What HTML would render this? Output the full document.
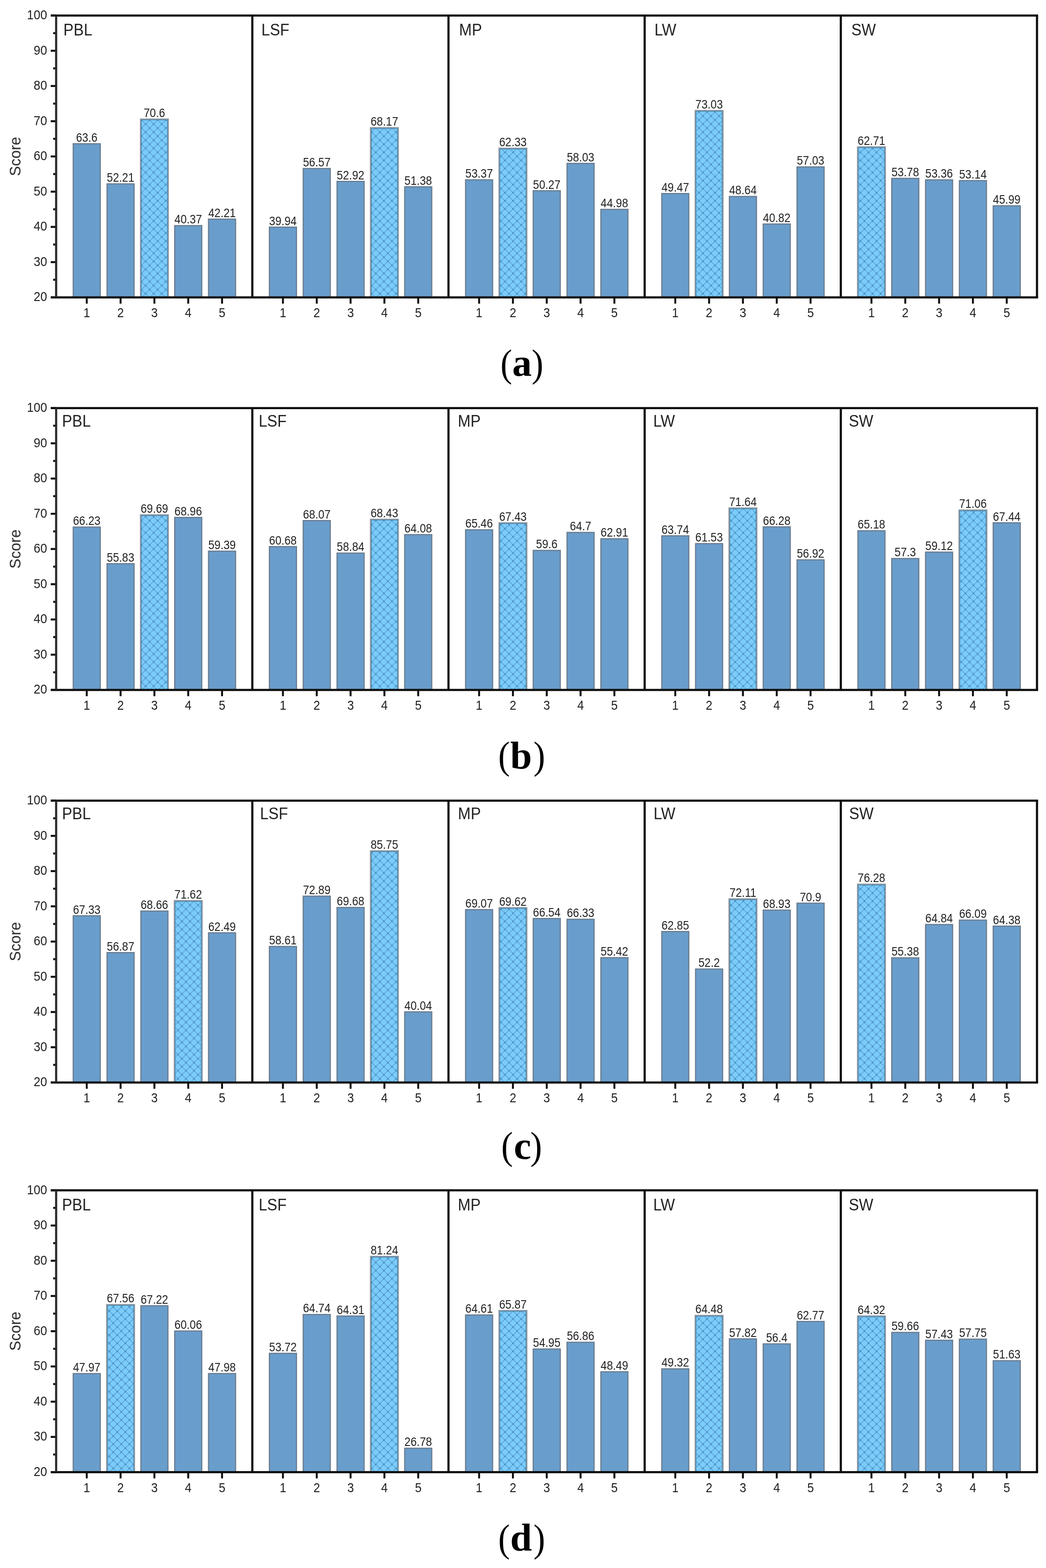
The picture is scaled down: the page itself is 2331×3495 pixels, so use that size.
<!DOCTYPE html>
<html><head><meta charset="utf-8"><title>Score bar charts</title>
<style>html,body{margin:0;padding:0;background:#fff;}svg{display:block;}.t{font-family:'Liberation Sans', Arial, sans-serif;fill:#222;}.cap{font-family:'Liberation Serif', 'Times New Roman', serif;fill:#000;}</style>
</head><body>
<svg width="2331" height="3495" viewBox="0 0 2331 3495">
<defs>
<pattern id="hxa" patternUnits="userSpaceOnUse" x="0.40" y="6.50" width="18" height="18"><rect width="18" height="18" fill="#7bccfb"/><path d="M-4.5,4.5 L4.5,-4.5 M0,18 L18,0 M13.5,22.5 L22.5,13.5 M-4.5,13.5 L4.5,22.5 M0,0 L18,18 M13.5,-4.5 L22.5,4.5" stroke="#5aa6d6" stroke-width="1.6" fill="none"/><path d="M-1.5,-1.5h3v3h-3z M16.5,-1.5h3v3h-3z M-1.5,16.5h3v3h-3z M16.5,16.5h3v3h-3z M7.5,7.5h3v3h-3z" fill="#4583b0"/></pattern>
<pattern id="hxb" patternUnits="userSpaceOnUse" x="0.40" y="881.50" width="18" height="18"><rect width="18" height="18" fill="#7bccfb"/><path d="M-4.5,4.5 L4.5,-4.5 M0,18 L18,0 M13.5,22.5 L22.5,13.5 M-4.5,13.5 L4.5,22.5 M0,0 L18,18 M13.5,-4.5 L22.5,4.5" stroke="#5aa6d6" stroke-width="1.6" fill="none"/><path d="M-1.5,-1.5h3v3h-3z M16.5,-1.5h3v3h-3z M-1.5,16.5h3v3h-3z M16.5,16.5h3v3h-3z M7.5,7.5h3v3h-3z" fill="#4583b0"/></pattern>
<pattern id="hxc" patternUnits="userSpaceOnUse" x="0.40" y="1756.50" width="18" height="18"><rect width="18" height="18" fill="#7bccfb"/><path d="M-4.5,4.5 L4.5,-4.5 M0,18 L18,0 M13.5,22.5 L22.5,13.5 M-4.5,13.5 L4.5,22.5 M0,0 L18,18 M13.5,-4.5 L22.5,4.5" stroke="#5aa6d6" stroke-width="1.6" fill="none"/><path d="M-1.5,-1.5h3v3h-3z M16.5,-1.5h3v3h-3z M-1.5,16.5h3v3h-3z M16.5,16.5h3v3h-3z M7.5,7.5h3v3h-3z" fill="#4583b0"/></pattern>
<pattern id="hxd" patternUnits="userSpaceOnUse" x="0.40" y="2625.00" width="18" height="18"><rect width="18" height="18" fill="#7bccfb"/><path d="M-4.5,4.5 L4.5,-4.5 M0,18 L18,0 M13.5,22.5 L22.5,13.5 M-4.5,13.5 L4.5,22.5 M0,0 L18,18 M13.5,-4.5 L22.5,4.5" stroke="#5aa6d6" stroke-width="1.6" fill="none"/><path d="M-1.5,-1.5h3v3h-3z M16.5,-1.5h3v3h-3z M-1.5,16.5h3v3h-3z M16.5,16.5h3v3h-3z M7.5,7.5h3v3h-3z" fill="#4583b0"/></pattern>
<filter id="soft" filterUnits="userSpaceOnUse" x="0" y="0" width="2331" height="3495"><feGaussianBlur stdDeviation="0.75"/></filter>
</defs>
<rect width="2331" height="3495" fill="#fff"/>
<g id="row-a" filter="url(#soft)">
<rect x="163.19" y="320.43" width="60.30" height="342.37" fill="#699dcc" stroke="#6b7d90" stroke-width="2.6"/>
<text class="t" font-size="24.5" text-anchor="middle" transform="translate(193.34 315.83) scale(1 1.1)">63.6</text>
<rect x="238.56" y="409.87" width="60.30" height="252.93" fill="#699dcc" stroke="#6b7d90" stroke-width="2.6"/>
<text class="t" font-size="24.5" text-anchor="middle" transform="translate(268.71 405.27) scale(1 1.1)">52.21</text>
<rect x="313.14" y="265.46" width="61.90" height="397.34" fill="url(#hxa)" stroke="#8e979f" stroke-width="2.6"/>
<rect x="315.04" y="267.36" width="58.10" height="395.44" fill="none" stroke="#4a84ae" stroke-width="1.4"/>
<text class="t" font-size="24.5" text-anchor="middle" transform="translate(344.08 260.86) scale(1 1.1)">70.6</text>
<rect x="389.31" y="502.84" width="60.30" height="159.96" fill="#699dcc" stroke="#6b7d90" stroke-width="2.6"/>
<text class="t" font-size="24.5" text-anchor="middle" transform="translate(419.46 498.24) scale(1 1.1)">40.37</text>
<rect x="464.68" y="488.40" width="60.30" height="174.40" fill="#699dcc" stroke="#6b7d90" stroke-width="2.6"/>
<text class="t" font-size="24.5" text-anchor="middle" transform="translate(494.83 483.80) scale(1 1.1)">42.21</text>
<text class="t" font-size="34" transform="translate(141.30 78.80) scale(1 1.075)">PBL</text>
<line x1="193.34" y1="662.80" x2="193.34" y2="676.80" stroke="#111" stroke-width="4.3"/>
<text class="t" font-size="26.5" text-anchor="middle" transform="translate(193.34 707.20) scale(1 1.1)">1</text>
<line x1="268.71" y1="662.80" x2="268.71" y2="676.80" stroke="#111" stroke-width="4.3"/>
<text class="t" font-size="26.5" text-anchor="middle" transform="translate(268.71 707.20) scale(1 1.1)">2</text>
<line x1="344.08" y1="662.80" x2="344.08" y2="676.80" stroke="#111" stroke-width="4.3"/>
<text class="t" font-size="26.5" text-anchor="middle" transform="translate(344.08 707.20) scale(1 1.1)">3</text>
<line x1="419.46" y1="662.80" x2="419.46" y2="676.80" stroke="#111" stroke-width="4.3"/>
<text class="t" font-size="26.5" text-anchor="middle" transform="translate(419.46 707.20) scale(1 1.1)">4</text>
<line x1="494.83" y1="662.80" x2="494.83" y2="676.80" stroke="#111" stroke-width="4.3"/>
<text class="t" font-size="26.5" text-anchor="middle" transform="translate(494.83 707.20) scale(1 1.1)">5</text>
<rect x="600.36" y="506.22" width="60.30" height="156.58" fill="#699dcc" stroke="#6b7d90" stroke-width="2.6"/>
<text class="t" font-size="24.5" text-anchor="middle" transform="translate(630.51 501.62) scale(1 1.1)">39.94</text>
<rect x="675.73" y="375.63" width="60.30" height="287.17" fill="#699dcc" stroke="#6b7d90" stroke-width="2.6"/>
<text class="t" font-size="24.5" text-anchor="middle" transform="translate(705.88 371.03) scale(1 1.1)">56.57</text>
<rect x="751.11" y="404.30" width="60.30" height="258.50" fill="#699dcc" stroke="#6b7d90" stroke-width="2.6"/>
<text class="t" font-size="24.5" text-anchor="middle" transform="translate(781.25 399.70) scale(1 1.1)">52.92</text>
<rect x="825.68" y="284.55" width="61.90" height="378.25" fill="url(#hxa)" stroke="#8e979f" stroke-width="2.6"/>
<rect x="827.58" y="286.45" width="58.10" height="376.35" fill="none" stroke="#4a84ae" stroke-width="1.4"/>
<text class="t" font-size="24.5" text-anchor="middle" transform="translate(856.63 279.95) scale(1 1.1)">68.17</text>
<rect x="901.85" y="416.39" width="60.30" height="246.41" fill="#699dcc" stroke="#6b7d90" stroke-width="2.6"/>
<text class="t" font-size="24.5" text-anchor="middle" transform="translate(932.00 411.79) scale(1 1.1)">51.38</text>
<text class="t" font-size="34" transform="translate(582.50 78.80) scale(1 1.075)">LSF</text>
<line x1="630.51" y1="662.80" x2="630.51" y2="676.80" stroke="#111" stroke-width="4.3"/>
<text class="t" font-size="26.5" text-anchor="middle" transform="translate(630.51 707.20) scale(1 1.1)">1</text>
<line x1="705.88" y1="662.80" x2="705.88" y2="676.80" stroke="#111" stroke-width="4.3"/>
<text class="t" font-size="26.5" text-anchor="middle" transform="translate(705.88 707.20) scale(1 1.1)">2</text>
<line x1="781.25" y1="662.80" x2="781.25" y2="676.80" stroke="#111" stroke-width="4.3"/>
<text class="t" font-size="26.5" text-anchor="middle" transform="translate(781.25 707.20) scale(1 1.1)">3</text>
<line x1="856.63" y1="662.80" x2="856.63" y2="676.80" stroke="#111" stroke-width="4.3"/>
<text class="t" font-size="26.5" text-anchor="middle" transform="translate(856.63 707.20) scale(1 1.1)">4</text>
<line x1="932.00" y1="662.80" x2="932.00" y2="676.80" stroke="#111" stroke-width="4.3"/>
<text class="t" font-size="26.5" text-anchor="middle" transform="translate(932.00 707.20) scale(1 1.1)">5</text>
<rect x="1037.53" y="400.76" width="60.30" height="262.04" fill="#699dcc" stroke="#6b7d90" stroke-width="2.6"/>
<text class="t" font-size="24.5" text-anchor="middle" transform="translate(1067.68 396.16) scale(1 1.1)">53.37</text>
<rect x="1112.10" y="330.40" width="61.90" height="332.40" fill="url(#hxa)" stroke="#8e979f" stroke-width="2.6"/>
<rect x="1114.00" y="332.30" width="58.10" height="330.50" fill="none" stroke="#4a84ae" stroke-width="1.4"/>
<text class="t" font-size="24.5" text-anchor="middle" transform="translate(1143.05 325.80) scale(1 1.1)">62.33</text>
<rect x="1188.28" y="425.10" width="60.30" height="237.70" fill="#699dcc" stroke="#6b7d90" stroke-width="2.6"/>
<text class="t" font-size="24.5" text-anchor="middle" transform="translate(1218.43 420.50) scale(1 1.1)">50.27</text>
<rect x="1263.65" y="364.17" width="60.30" height="298.63" fill="#699dcc" stroke="#6b7d90" stroke-width="2.6"/>
<text class="t" font-size="24.5" text-anchor="middle" transform="translate(1293.80 359.57) scale(1 1.1)">58.03</text>
<rect x="1339.02" y="466.64" width="60.30" height="196.16" fill="#699dcc" stroke="#6b7d90" stroke-width="2.6"/>
<text class="t" font-size="24.5" text-anchor="middle" transform="translate(1369.17 462.04) scale(1 1.1)">44.98</text>
<text class="t" font-size="34" transform="translate(1023.10 78.80) scale(1 1.075)">MP</text>
<line x1="1067.68" y1="662.80" x2="1067.68" y2="676.80" stroke="#111" stroke-width="4.3"/>
<text class="t" font-size="26.5" text-anchor="middle" transform="translate(1067.68 707.20) scale(1 1.1)">1</text>
<line x1="1143.05" y1="662.80" x2="1143.05" y2="676.80" stroke="#111" stroke-width="4.3"/>
<text class="t" font-size="26.5" text-anchor="middle" transform="translate(1143.05 707.20) scale(1 1.1)">2</text>
<line x1="1218.43" y1="662.80" x2="1218.43" y2="676.80" stroke="#111" stroke-width="4.3"/>
<text class="t" font-size="26.5" text-anchor="middle" transform="translate(1218.43 707.20) scale(1 1.1)">3</text>
<line x1="1293.80" y1="662.80" x2="1293.80" y2="676.80" stroke="#111" stroke-width="4.3"/>
<text class="t" font-size="26.5" text-anchor="middle" transform="translate(1293.80 707.20) scale(1 1.1)">4</text>
<line x1="1369.17" y1="662.80" x2="1369.17" y2="676.80" stroke="#111" stroke-width="4.3"/>
<text class="t" font-size="26.5" text-anchor="middle" transform="translate(1369.17 707.20) scale(1 1.1)">5</text>
<rect x="1474.70" y="431.39" width="60.30" height="231.41" fill="#699dcc" stroke="#6b7d90" stroke-width="2.6"/>
<text class="t" font-size="24.5" text-anchor="middle" transform="translate(1504.85 426.79) scale(1 1.1)">49.47</text>
<rect x="1549.27" y="246.38" width="61.90" height="416.42" fill="url(#hxa)" stroke="#8e979f" stroke-width="2.6"/>
<rect x="1551.17" y="248.28" width="58.10" height="414.52" fill="none" stroke="#4a84ae" stroke-width="1.4"/>
<text class="t" font-size="24.5" text-anchor="middle" transform="translate(1580.22 241.78) scale(1 1.1)">73.03</text>
<rect x="1625.45" y="437.90" width="60.30" height="224.90" fill="#699dcc" stroke="#6b7d90" stroke-width="2.6"/>
<text class="t" font-size="24.5" text-anchor="middle" transform="translate(1655.60 433.30) scale(1 1.1)">48.64</text>
<rect x="1700.82" y="499.31" width="60.30" height="163.49" fill="#699dcc" stroke="#6b7d90" stroke-width="2.6"/>
<text class="t" font-size="24.5" text-anchor="middle" transform="translate(1730.97 494.71) scale(1 1.1)">40.82</text>
<rect x="1776.19" y="372.02" width="60.30" height="290.78" fill="#699dcc" stroke="#6b7d90" stroke-width="2.6"/>
<text class="t" font-size="24.5" text-anchor="middle" transform="translate(1806.34 367.42) scale(1 1.1)">57.03</text>
<text class="t" font-size="34" transform="translate(1458.50 78.80) scale(1 1.075)">LW</text>
<line x1="1504.85" y1="662.80" x2="1504.85" y2="676.80" stroke="#111" stroke-width="4.3"/>
<text class="t" font-size="26.5" text-anchor="middle" transform="translate(1504.85 707.20) scale(1 1.1)">1</text>
<line x1="1580.22" y1="662.80" x2="1580.22" y2="676.80" stroke="#111" stroke-width="4.3"/>
<text class="t" font-size="26.5" text-anchor="middle" transform="translate(1580.22 707.20) scale(1 1.1)">2</text>
<line x1="1655.60" y1="662.80" x2="1655.60" y2="676.80" stroke="#111" stroke-width="4.3"/>
<text class="t" font-size="26.5" text-anchor="middle" transform="translate(1655.60 707.20) scale(1 1.1)">3</text>
<line x1="1730.97" y1="662.80" x2="1730.97" y2="676.80" stroke="#111" stroke-width="4.3"/>
<text class="t" font-size="26.5" text-anchor="middle" transform="translate(1730.97 707.20) scale(1 1.1)">4</text>
<line x1="1806.34" y1="662.80" x2="1806.34" y2="676.80" stroke="#111" stroke-width="4.3"/>
<text class="t" font-size="26.5" text-anchor="middle" transform="translate(1806.34 707.20) scale(1 1.1)">5</text>
<rect x="1911.07" y="327.42" width="61.90" height="335.38" fill="url(#hxa)" stroke="#8e979f" stroke-width="2.6"/>
<rect x="1912.97" y="329.32" width="58.10" height="333.48" fill="none" stroke="#4a84ae" stroke-width="1.4"/>
<text class="t" font-size="24.5" text-anchor="middle" transform="translate(1942.02 322.82) scale(1 1.1)">62.71</text>
<rect x="1987.24" y="397.54" width="60.30" height="265.26" fill="#699dcc" stroke="#6b7d90" stroke-width="2.6"/>
<text class="t" font-size="24.5" text-anchor="middle" transform="translate(2017.39 392.94) scale(1 1.1)">53.78</text>
<rect x="2062.62" y="400.84" width="60.30" height="261.96" fill="#699dcc" stroke="#6b7d90" stroke-width="2.6"/>
<text class="t" font-size="24.5" text-anchor="middle" transform="translate(2092.76 396.24) scale(1 1.1)">53.36</text>
<rect x="2137.99" y="402.57" width="60.30" height="260.23" fill="#699dcc" stroke="#6b7d90" stroke-width="2.6"/>
<text class="t" font-size="24.5" text-anchor="middle" transform="translate(2168.14 397.97) scale(1 1.1)">53.14</text>
<rect x="2213.36" y="458.71" width="60.30" height="204.09" fill="#699dcc" stroke="#6b7d90" stroke-width="2.6"/>
<text class="t" font-size="24.5" text-anchor="middle" transform="translate(2243.51 454.11) scale(1 1.1)">45.99</text>
<text class="t" font-size="34" transform="translate(1897.20 78.80) scale(1 1.075)">SW</text>
<line x1="1942.02" y1="662.80" x2="1942.02" y2="676.80" stroke="#111" stroke-width="4.3"/>
<text class="t" font-size="26.5" text-anchor="middle" transform="translate(1942.02 707.20) scale(1 1.1)">1</text>
<line x1="2017.39" y1="662.80" x2="2017.39" y2="676.80" stroke="#111" stroke-width="4.3"/>
<text class="t" font-size="26.5" text-anchor="middle" transform="translate(2017.39 707.20) scale(1 1.1)">2</text>
<line x1="2092.76" y1="662.80" x2="2092.76" y2="676.80" stroke="#111" stroke-width="4.3"/>
<text class="t" font-size="26.5" text-anchor="middle" transform="translate(2092.76 707.20) scale(1 1.1)">3</text>
<line x1="2168.14" y1="662.80" x2="2168.14" y2="676.80" stroke="#111" stroke-width="4.3"/>
<text class="t" font-size="26.5" text-anchor="middle" transform="translate(2168.14 707.20) scale(1 1.1)">4</text>
<line x1="2243.51" y1="662.80" x2="2243.51" y2="676.80" stroke="#111" stroke-width="4.3"/>
<text class="t" font-size="26.5" text-anchor="middle" transform="translate(2243.51 707.20) scale(1 1.1)">5</text>
<line x1="113" y1="662.80" x2="125.10" y2="662.80" stroke="#111" stroke-width="4.4"/>
<text class="t" font-size="27" text-anchor="end" transform="translate(105 671.30) scale(1 1.08)">20</text>
<line x1="118.5" y1="623.54" x2="125.10" y2="623.54" stroke="#111" stroke-width="4.4"/>
<line x1="113" y1="584.27" x2="125.10" y2="584.27" stroke="#111" stroke-width="4.4"/>
<text class="t" font-size="27" text-anchor="end" transform="translate(105 592.77) scale(1 1.08)">30</text>
<line x1="118.5" y1="545.01" x2="125.10" y2="545.01" stroke="#111" stroke-width="4.4"/>
<line x1="113" y1="505.75" x2="125.10" y2="505.75" stroke="#111" stroke-width="4.4"/>
<text class="t" font-size="27" text-anchor="end" transform="translate(105 514.25) scale(1 1.08)">40</text>
<line x1="118.5" y1="466.49" x2="125.10" y2="466.49" stroke="#111" stroke-width="4.4"/>
<line x1="113" y1="427.22" x2="125.10" y2="427.22" stroke="#111" stroke-width="4.4"/>
<text class="t" font-size="27" text-anchor="end" transform="translate(105 435.72) scale(1 1.08)">50</text>
<line x1="118.5" y1="387.96" x2="125.10" y2="387.96" stroke="#111" stroke-width="4.4"/>
<line x1="113" y1="348.70" x2="125.10" y2="348.70" stroke="#111" stroke-width="4.4"/>
<text class="t" font-size="27" text-anchor="end" transform="translate(105 357.20) scale(1 1.08)">60</text>
<line x1="118.5" y1="309.44" x2="125.10" y2="309.44" stroke="#111" stroke-width="4.4"/>
<line x1="113" y1="270.18" x2="125.10" y2="270.18" stroke="#111" stroke-width="4.4"/>
<text class="t" font-size="27" text-anchor="end" transform="translate(105 278.68) scale(1 1.08)">70</text>
<line x1="118.5" y1="230.91" x2="125.10" y2="230.91" stroke="#111" stroke-width="4.4"/>
<line x1="113" y1="191.65" x2="125.10" y2="191.65" stroke="#111" stroke-width="4.4"/>
<text class="t" font-size="27" text-anchor="end" transform="translate(105 200.15) scale(1 1.08)">80</text>
<line x1="118.5" y1="152.39" x2="125.10" y2="152.39" stroke="#111" stroke-width="4.4"/>
<line x1="113" y1="113.12" x2="125.10" y2="113.12" stroke="#111" stroke-width="4.4"/>
<text class="t" font-size="27" text-anchor="end" transform="translate(105 121.62) scale(1 1.08)">90</text>
<line x1="118.5" y1="73.86" x2="125.10" y2="73.86" stroke="#111" stroke-width="4.4"/>
<line x1="113" y1="34.60" x2="125.10" y2="34.60" stroke="#111" stroke-width="4.4"/>
<text class="t" font-size="27" text-anchor="end" transform="translate(105 43.10) scale(1 1.08)">100</text>
<line x1="113" y1="34.60" x2="2313.35" y2="34.60" stroke="#0a0a0a" stroke-width="4.8"/>
<line x1="113" y1="662.80" x2="2313.35" y2="662.80" stroke="#0a0a0a" stroke-width="4.8"/>
<line x1="125.10" y1="34.60" x2="125.10" y2="662.80" stroke="#2a2a2a" stroke-width="4.8"/>
<line x1="562.27" y1="34.60" x2="562.27" y2="662.80" stroke="#0a0a0a" stroke-width="4.8"/>
<line x1="999.44" y1="34.60" x2="999.44" y2="662.80" stroke="#0a0a0a" stroke-width="4.8"/>
<line x1="1436.61" y1="34.60" x2="1436.61" y2="662.80" stroke="#0a0a0a" stroke-width="4.8"/>
<line x1="1873.78" y1="34.60" x2="1873.78" y2="662.80" stroke="#0a0a0a" stroke-width="4.8"/>
<line x1="2310.95" y1="34.60" x2="2310.95" y2="662.80" stroke="#0a0a0a" stroke-width="4.8"/>
<text class="t" font-size="33.5" text-anchor="middle" transform="translate(45.3 348.70) rotate(-90) scale(1 1.05)">Score</text>
</g>
<g class="cap" font-size="87"><text transform="translate(1115.3 839.4) scale(0.9 1)">(</text><text x="1141.6" y="837.6" font-weight="bold" font-size="87">a</text><text transform="translate(1184.8 839.4) scale(0.9 1)">)</text></g>
<g id="row-b" filter="url(#soft)">
<rect x="163.19" y="1174.78" width="60.30" height="363.02" fill="#699dcc" stroke="#6b7d90" stroke-width="2.6"/>
<text class="t" font-size="24.5" text-anchor="middle" transform="translate(193.34 1170.18) scale(1 1.1)">66.23</text>
<rect x="238.56" y="1256.44" width="60.30" height="281.36" fill="#699dcc" stroke="#6b7d90" stroke-width="2.6"/>
<text class="t" font-size="24.5" text-anchor="middle" transform="translate(268.71 1251.84) scale(1 1.1)">55.83</text>
<rect x="313.14" y="1147.61" width="61.90" height="390.19" fill="url(#hxb)" stroke="#8e979f" stroke-width="2.6"/>
<rect x="315.04" y="1149.51" width="58.10" height="388.29" fill="none" stroke="#4a84ae" stroke-width="1.4"/>
<text class="t" font-size="24.5" text-anchor="middle" transform="translate(344.08 1143.01) scale(1 1.1)">69.69</text>
<rect x="389.31" y="1153.34" width="60.30" height="384.46" fill="#699dcc" stroke="#6b7d90" stroke-width="2.6"/>
<text class="t" font-size="24.5" text-anchor="middle" transform="translate(419.46 1148.74) scale(1 1.1)">68.96</text>
<rect x="464.68" y="1228.49" width="60.30" height="309.31" fill="#699dcc" stroke="#6b7d90" stroke-width="2.6"/>
<text class="t" font-size="24.5" text-anchor="middle" transform="translate(494.83 1223.89) scale(1 1.1)">59.39</text>
<text class="t" font-size="34" transform="translate(138.20 950.80) scale(1 1.075)">PBL</text>
<line x1="193.34" y1="1537.80" x2="193.34" y2="1551.80" stroke="#111" stroke-width="4.3"/>
<text class="t" font-size="26.5" text-anchor="middle" transform="translate(193.34 1582.20) scale(1 1.1)">1</text>
<line x1="268.71" y1="1537.80" x2="268.71" y2="1551.80" stroke="#111" stroke-width="4.3"/>
<text class="t" font-size="26.5" text-anchor="middle" transform="translate(268.71 1582.20) scale(1 1.1)">2</text>
<line x1="344.08" y1="1537.80" x2="344.08" y2="1551.80" stroke="#111" stroke-width="4.3"/>
<text class="t" font-size="26.5" text-anchor="middle" transform="translate(344.08 1582.20) scale(1 1.1)">3</text>
<line x1="419.46" y1="1537.80" x2="419.46" y2="1551.80" stroke="#111" stroke-width="4.3"/>
<text class="t" font-size="26.5" text-anchor="middle" transform="translate(419.46 1582.20) scale(1 1.1)">4</text>
<line x1="494.83" y1="1537.80" x2="494.83" y2="1551.80" stroke="#111" stroke-width="4.3"/>
<text class="t" font-size="26.5" text-anchor="middle" transform="translate(494.83 1582.20) scale(1 1.1)">5</text>
<rect x="600.36" y="1218.36" width="60.30" height="319.44" fill="#699dcc" stroke="#6b7d90" stroke-width="2.6"/>
<text class="t" font-size="24.5" text-anchor="middle" transform="translate(630.51 1213.76) scale(1 1.1)">60.68</text>
<rect x="675.73" y="1160.33" width="60.30" height="377.47" fill="#699dcc" stroke="#6b7d90" stroke-width="2.6"/>
<text class="t" font-size="24.5" text-anchor="middle" transform="translate(705.88 1155.73) scale(1 1.1)">68.07</text>
<rect x="751.11" y="1232.81" width="60.30" height="304.99" fill="#699dcc" stroke="#6b7d90" stroke-width="2.6"/>
<text class="t" font-size="24.5" text-anchor="middle" transform="translate(781.25 1228.21) scale(1 1.1)">58.84</text>
<rect x="825.68" y="1157.50" width="61.90" height="380.30" fill="url(#hxb)" stroke="#8e979f" stroke-width="2.6"/>
<rect x="827.58" y="1159.40" width="58.10" height="378.40" fill="none" stroke="#4a84ae" stroke-width="1.4"/>
<text class="t" font-size="24.5" text-anchor="middle" transform="translate(856.63 1152.90) scale(1 1.1)">68.43</text>
<rect x="901.85" y="1191.66" width="60.30" height="346.14" fill="#699dcc" stroke="#6b7d90" stroke-width="2.6"/>
<text class="t" font-size="24.5" text-anchor="middle" transform="translate(932.00 1187.06) scale(1 1.1)">64.08</text>
<text class="t" font-size="34" transform="translate(576.40 950.80) scale(1 1.075)">LSF</text>
<line x1="630.51" y1="1537.80" x2="630.51" y2="1551.80" stroke="#111" stroke-width="4.3"/>
<text class="t" font-size="26.5" text-anchor="middle" transform="translate(630.51 1582.20) scale(1 1.1)">1</text>
<line x1="705.88" y1="1537.80" x2="705.88" y2="1551.80" stroke="#111" stroke-width="4.3"/>
<text class="t" font-size="26.5" text-anchor="middle" transform="translate(705.88 1582.20) scale(1 1.1)">2</text>
<line x1="781.25" y1="1537.80" x2="781.25" y2="1551.80" stroke="#111" stroke-width="4.3"/>
<text class="t" font-size="26.5" text-anchor="middle" transform="translate(781.25 1582.20) scale(1 1.1)">3</text>
<line x1="856.63" y1="1537.80" x2="856.63" y2="1551.80" stroke="#111" stroke-width="4.3"/>
<text class="t" font-size="26.5" text-anchor="middle" transform="translate(856.63 1582.20) scale(1 1.1)">4</text>
<line x1="932.00" y1="1537.80" x2="932.00" y2="1551.80" stroke="#111" stroke-width="4.3"/>
<text class="t" font-size="26.5" text-anchor="middle" transform="translate(932.00 1582.20) scale(1 1.1)">5</text>
<rect x="1037.53" y="1180.83" width="60.30" height="356.97" fill="#699dcc" stroke="#6b7d90" stroke-width="2.6"/>
<text class="t" font-size="24.5" text-anchor="middle" transform="translate(1067.68 1176.23) scale(1 1.1)">65.46</text>
<rect x="1112.10" y="1165.36" width="61.90" height="372.44" fill="url(#hxb)" stroke="#8e979f" stroke-width="2.6"/>
<rect x="1114.00" y="1167.26" width="58.10" height="370.54" fill="none" stroke="#4a84ae" stroke-width="1.4"/>
<text class="t" font-size="24.5" text-anchor="middle" transform="translate(1143.05 1160.76) scale(1 1.1)">67.43</text>
<rect x="1188.28" y="1226.84" width="60.30" height="310.96" fill="#699dcc" stroke="#6b7d90" stroke-width="2.6"/>
<text class="t" font-size="24.5" text-anchor="middle" transform="translate(1218.43 1222.24) scale(1 1.1)">59.6</text>
<rect x="1263.65" y="1186.79" width="60.30" height="351.01" fill="#699dcc" stroke="#6b7d90" stroke-width="2.6"/>
<text class="t" font-size="24.5" text-anchor="middle" transform="translate(1293.80 1182.19) scale(1 1.1)">64.7</text>
<rect x="1339.02" y="1200.85" width="60.30" height="336.95" fill="#699dcc" stroke="#6b7d90" stroke-width="2.6"/>
<text class="t" font-size="24.5" text-anchor="middle" transform="translate(1369.17 1196.25) scale(1 1.1)">62.91</text>
<text class="t" font-size="34" transform="translate(1020.30 950.80) scale(1 1.075)">MP</text>
<line x1="1067.68" y1="1537.80" x2="1067.68" y2="1551.80" stroke="#111" stroke-width="4.3"/>
<text class="t" font-size="26.5" text-anchor="middle" transform="translate(1067.68 1582.20) scale(1 1.1)">1</text>
<line x1="1143.05" y1="1537.80" x2="1143.05" y2="1551.80" stroke="#111" stroke-width="4.3"/>
<text class="t" font-size="26.5" text-anchor="middle" transform="translate(1143.05 1582.20) scale(1 1.1)">2</text>
<line x1="1218.43" y1="1537.80" x2="1218.43" y2="1551.80" stroke="#111" stroke-width="4.3"/>
<text class="t" font-size="26.5" text-anchor="middle" transform="translate(1218.43 1582.20) scale(1 1.1)">3</text>
<line x1="1293.80" y1="1537.80" x2="1293.80" y2="1551.80" stroke="#111" stroke-width="4.3"/>
<text class="t" font-size="26.5" text-anchor="middle" transform="translate(1293.80 1582.20) scale(1 1.1)">4</text>
<line x1="1369.17" y1="1537.80" x2="1369.17" y2="1551.80" stroke="#111" stroke-width="4.3"/>
<text class="t" font-size="26.5" text-anchor="middle" transform="translate(1369.17 1582.20) scale(1 1.1)">5</text>
<rect x="1474.70" y="1194.33" width="60.30" height="343.47" fill="#699dcc" stroke="#6b7d90" stroke-width="2.6"/>
<text class="t" font-size="24.5" text-anchor="middle" transform="translate(1504.85 1189.73) scale(1 1.1)">63.74</text>
<rect x="1550.07" y="1211.69" width="60.30" height="326.11" fill="#699dcc" stroke="#6b7d90" stroke-width="2.6"/>
<text class="t" font-size="24.5" text-anchor="middle" transform="translate(1580.22 1207.09) scale(1 1.1)">61.53</text>
<rect x="1624.65" y="1132.30" width="61.90" height="405.50" fill="url(#hxb)" stroke="#8e979f" stroke-width="2.6"/>
<rect x="1626.55" y="1134.20" width="58.10" height="403.60" fill="none" stroke="#4a84ae" stroke-width="1.4"/>
<text class="t" font-size="24.5" text-anchor="middle" transform="translate(1655.60 1127.70) scale(1 1.1)">71.64</text>
<rect x="1700.82" y="1174.39" width="60.30" height="363.41" fill="#699dcc" stroke="#6b7d90" stroke-width="2.6"/>
<text class="t" font-size="24.5" text-anchor="middle" transform="translate(1730.97 1169.79) scale(1 1.1)">66.28</text>
<rect x="1776.19" y="1247.89" width="60.30" height="289.91" fill="#699dcc" stroke="#6b7d90" stroke-width="2.6"/>
<text class="t" font-size="24.5" text-anchor="middle" transform="translate(1806.34 1243.29) scale(1 1.1)">56.92</text>
<text class="t" font-size="34" transform="translate(1455.70 950.80) scale(1 1.075)">LW</text>
<line x1="1504.85" y1="1537.80" x2="1504.85" y2="1551.80" stroke="#111" stroke-width="4.3"/>
<text class="t" font-size="26.5" text-anchor="middle" transform="translate(1504.85 1582.20) scale(1 1.1)">1</text>
<line x1="1580.22" y1="1537.80" x2="1580.22" y2="1551.80" stroke="#111" stroke-width="4.3"/>
<text class="t" font-size="26.5" text-anchor="middle" transform="translate(1580.22 1582.20) scale(1 1.1)">2</text>
<line x1="1655.60" y1="1537.80" x2="1655.60" y2="1551.80" stroke="#111" stroke-width="4.3"/>
<text class="t" font-size="26.5" text-anchor="middle" transform="translate(1655.60 1582.20) scale(1 1.1)">3</text>
<line x1="1730.97" y1="1537.80" x2="1730.97" y2="1551.80" stroke="#111" stroke-width="4.3"/>
<text class="t" font-size="26.5" text-anchor="middle" transform="translate(1730.97 1582.20) scale(1 1.1)">4</text>
<line x1="1806.34" y1="1537.80" x2="1806.34" y2="1551.80" stroke="#111" stroke-width="4.3"/>
<text class="t" font-size="26.5" text-anchor="middle" transform="translate(1806.34 1582.20) scale(1 1.1)">5</text>
<rect x="1911.87" y="1183.02" width="60.30" height="354.78" fill="#699dcc" stroke="#6b7d90" stroke-width="2.6"/>
<text class="t" font-size="24.5" text-anchor="middle" transform="translate(1942.02 1178.42) scale(1 1.1)">65.18</text>
<rect x="1987.24" y="1244.90" width="60.30" height="292.90" fill="#699dcc" stroke="#6b7d90" stroke-width="2.6"/>
<text class="t" font-size="24.5" text-anchor="middle" transform="translate(2017.39 1240.30) scale(1 1.1)">57.3</text>
<rect x="2062.62" y="1230.61" width="60.30" height="307.19" fill="#699dcc" stroke="#6b7d90" stroke-width="2.6"/>
<text class="t" font-size="24.5" text-anchor="middle" transform="translate(2092.76 1226.01) scale(1 1.1)">59.12</text>
<rect x="2137.19" y="1136.85" width="61.90" height="400.95" fill="url(#hxb)" stroke="#8e979f" stroke-width="2.6"/>
<rect x="2139.09" y="1138.75" width="58.10" height="399.05" fill="none" stroke="#4a84ae" stroke-width="1.4"/>
<text class="t" font-size="24.5" text-anchor="middle" transform="translate(2168.14 1132.25) scale(1 1.1)">71.06</text>
<rect x="2213.36" y="1165.28" width="60.30" height="372.52" fill="#699dcc" stroke="#6b7d90" stroke-width="2.6"/>
<text class="t" font-size="24.5" text-anchor="middle" transform="translate(2243.51 1160.68) scale(1 1.1)">67.44</text>
<text class="t" font-size="34" transform="translate(1891.40 950.80) scale(1 1.075)">SW</text>
<line x1="1942.02" y1="1537.80" x2="1942.02" y2="1551.80" stroke="#111" stroke-width="4.3"/>
<text class="t" font-size="26.5" text-anchor="middle" transform="translate(1942.02 1582.20) scale(1 1.1)">1</text>
<line x1="2017.39" y1="1537.80" x2="2017.39" y2="1551.80" stroke="#111" stroke-width="4.3"/>
<text class="t" font-size="26.5" text-anchor="middle" transform="translate(2017.39 1582.20) scale(1 1.1)">2</text>
<line x1="2092.76" y1="1537.80" x2="2092.76" y2="1551.80" stroke="#111" stroke-width="4.3"/>
<text class="t" font-size="26.5" text-anchor="middle" transform="translate(2092.76 1582.20) scale(1 1.1)">3</text>
<line x1="2168.14" y1="1537.80" x2="2168.14" y2="1551.80" stroke="#111" stroke-width="4.3"/>
<text class="t" font-size="26.5" text-anchor="middle" transform="translate(2168.14 1582.20) scale(1 1.1)">4</text>
<line x1="2243.51" y1="1537.80" x2="2243.51" y2="1551.80" stroke="#111" stroke-width="4.3"/>
<text class="t" font-size="26.5" text-anchor="middle" transform="translate(2243.51 1582.20) scale(1 1.1)">5</text>
<line x1="113" y1="1537.80" x2="125.10" y2="1537.80" stroke="#111" stroke-width="4.4"/>
<text class="t" font-size="27" text-anchor="end" transform="translate(105 1546.30) scale(1 1.08)">20</text>
<line x1="118.5" y1="1498.54" x2="125.10" y2="1498.54" stroke="#111" stroke-width="4.4"/>
<line x1="113" y1="1459.27" x2="125.10" y2="1459.27" stroke="#111" stroke-width="4.4"/>
<text class="t" font-size="27" text-anchor="end" transform="translate(105 1467.77) scale(1 1.08)">30</text>
<line x1="118.5" y1="1420.01" x2="125.10" y2="1420.01" stroke="#111" stroke-width="4.4"/>
<line x1="113" y1="1380.75" x2="125.10" y2="1380.75" stroke="#111" stroke-width="4.4"/>
<text class="t" font-size="27" text-anchor="end" transform="translate(105 1389.25) scale(1 1.08)">40</text>
<line x1="118.5" y1="1341.49" x2="125.10" y2="1341.49" stroke="#111" stroke-width="4.4"/>
<line x1="113" y1="1302.22" x2="125.10" y2="1302.22" stroke="#111" stroke-width="4.4"/>
<text class="t" font-size="27" text-anchor="end" transform="translate(105 1310.72) scale(1 1.08)">50</text>
<line x1="118.5" y1="1262.96" x2="125.10" y2="1262.96" stroke="#111" stroke-width="4.4"/>
<line x1="113" y1="1223.70" x2="125.10" y2="1223.70" stroke="#111" stroke-width="4.4"/>
<text class="t" font-size="27" text-anchor="end" transform="translate(105 1232.20) scale(1 1.08)">60</text>
<line x1="118.5" y1="1184.44" x2="125.10" y2="1184.44" stroke="#111" stroke-width="4.4"/>
<line x1="113" y1="1145.17" x2="125.10" y2="1145.17" stroke="#111" stroke-width="4.4"/>
<text class="t" font-size="27" text-anchor="end" transform="translate(105 1153.67) scale(1 1.08)">70</text>
<line x1="118.5" y1="1105.91" x2="125.10" y2="1105.91" stroke="#111" stroke-width="4.4"/>
<line x1="113" y1="1066.65" x2="125.10" y2="1066.65" stroke="#111" stroke-width="4.4"/>
<text class="t" font-size="27" text-anchor="end" transform="translate(105 1075.15) scale(1 1.08)">80</text>
<line x1="118.5" y1="1027.39" x2="125.10" y2="1027.39" stroke="#111" stroke-width="4.4"/>
<line x1="113" y1="988.12" x2="125.10" y2="988.12" stroke="#111" stroke-width="4.4"/>
<text class="t" font-size="27" text-anchor="end" transform="translate(105 996.62) scale(1 1.08)">90</text>
<line x1="118.5" y1="948.86" x2="125.10" y2="948.86" stroke="#111" stroke-width="4.4"/>
<line x1="113" y1="909.60" x2="125.10" y2="909.60" stroke="#111" stroke-width="4.4"/>
<text class="t" font-size="27" text-anchor="end" transform="translate(105 918.10) scale(1 1.08)">100</text>
<line x1="113" y1="909.60" x2="2313.35" y2="909.60" stroke="#0a0a0a" stroke-width="4.8"/>
<line x1="113" y1="1537.80" x2="2313.35" y2="1537.80" stroke="#0a0a0a" stroke-width="4.8"/>
<line x1="125.10" y1="909.60" x2="125.10" y2="1537.80" stroke="#2a2a2a" stroke-width="4.8"/>
<line x1="562.27" y1="909.60" x2="562.27" y2="1537.80" stroke="#0a0a0a" stroke-width="4.8"/>
<line x1="999.44" y1="909.60" x2="999.44" y2="1537.80" stroke="#0a0a0a" stroke-width="4.8"/>
<line x1="1436.61" y1="909.60" x2="1436.61" y2="1537.80" stroke="#0a0a0a" stroke-width="4.8"/>
<line x1="1873.78" y1="909.60" x2="1873.78" y2="1537.80" stroke="#0a0a0a" stroke-width="4.8"/>
<line x1="2310.95" y1="909.60" x2="2310.95" y2="1537.80" stroke="#0a0a0a" stroke-width="4.8"/>
<text class="t" font-size="33.5" text-anchor="middle" transform="translate(45.3 1223.70) rotate(-90) scale(1 1.05)">Score</text>
</g>
<g class="cap" font-size="87"><text transform="translate(1110.2 1713.1) scale(0.9 1)">(</text><text x="1137.0" y="1713.0" font-weight="bold" font-size="87">b</text><text transform="translate(1188.8 1713.1) scale(0.9 1)">)</text></g>
<g id="row-c" filter="url(#soft)">
<rect x="163.19" y="2041.14" width="60.30" height="371.66" fill="#699dcc" stroke="#6b7d90" stroke-width="2.6"/>
<text class="t" font-size="24.5" text-anchor="middle" transform="translate(193.34 2036.54) scale(1 1.1)">67.33</text>
<rect x="238.56" y="2123.28" width="60.30" height="289.52" fill="#699dcc" stroke="#6b7d90" stroke-width="2.6"/>
<text class="t" font-size="24.5" text-anchor="middle" transform="translate(268.71 2118.68) scale(1 1.1)">56.87</text>
<rect x="313.94" y="2030.70" width="60.30" height="382.10" fill="#699dcc" stroke="#6b7d90" stroke-width="2.6"/>
<text class="t" font-size="24.5" text-anchor="middle" transform="translate(344.08 2026.10) scale(1 1.1)">68.66</text>
<rect x="388.51" y="2007.45" width="61.90" height="405.35" fill="url(#hxc)" stroke="#8e979f" stroke-width="2.6"/>
<rect x="390.41" y="2009.35" width="58.10" height="403.45" fill="none" stroke="#4a84ae" stroke-width="1.4"/>
<text class="t" font-size="24.5" text-anchor="middle" transform="translate(419.46 2002.85) scale(1 1.1)">71.62</text>
<rect x="464.68" y="2079.15" width="60.30" height="333.65" fill="#699dcc" stroke="#6b7d90" stroke-width="2.6"/>
<text class="t" font-size="24.5" text-anchor="middle" transform="translate(494.83 2074.55) scale(1 1.1)">62.49</text>
<text class="t" font-size="34" transform="translate(138.20 1825.80) scale(1 1.075)">PBL</text>
<line x1="193.34" y1="2412.80" x2="193.34" y2="2426.80" stroke="#111" stroke-width="4.3"/>
<text class="t" font-size="26.5" text-anchor="middle" transform="translate(193.34 2457.20) scale(1 1.1)">1</text>
<line x1="268.71" y1="2412.80" x2="268.71" y2="2426.80" stroke="#111" stroke-width="4.3"/>
<text class="t" font-size="26.5" text-anchor="middle" transform="translate(268.71 2457.20) scale(1 1.1)">2</text>
<line x1="344.08" y1="2412.80" x2="344.08" y2="2426.80" stroke="#111" stroke-width="4.3"/>
<text class="t" font-size="26.5" text-anchor="middle" transform="translate(344.08 2457.20) scale(1 1.1)">3</text>
<line x1="419.46" y1="2412.80" x2="419.46" y2="2426.80" stroke="#111" stroke-width="4.3"/>
<text class="t" font-size="26.5" text-anchor="middle" transform="translate(419.46 2457.20) scale(1 1.1)">4</text>
<line x1="494.83" y1="2412.80" x2="494.83" y2="2426.80" stroke="#111" stroke-width="4.3"/>
<text class="t" font-size="26.5" text-anchor="middle" transform="translate(494.83 2457.20) scale(1 1.1)">5</text>
<rect x="600.36" y="2109.61" width="60.30" height="303.19" fill="#699dcc" stroke="#6b7d90" stroke-width="2.6"/>
<text class="t" font-size="24.5" text-anchor="middle" transform="translate(630.51 2105.01) scale(1 1.1)">58.61</text>
<rect x="675.73" y="1997.48" width="60.30" height="415.32" fill="#699dcc" stroke="#6b7d90" stroke-width="2.6"/>
<text class="t" font-size="24.5" text-anchor="middle" transform="translate(705.88 1992.88) scale(1 1.1)">72.89</text>
<rect x="751.11" y="2022.69" width="60.30" height="390.11" fill="#699dcc" stroke="#6b7d90" stroke-width="2.6"/>
<text class="t" font-size="24.5" text-anchor="middle" transform="translate(781.25 2018.09) scale(1 1.1)">69.68</text>
<rect x="825.68" y="1896.50" width="61.90" height="516.30" fill="url(#hxc)" stroke="#8e979f" stroke-width="2.6"/>
<rect x="827.58" y="1898.40" width="58.10" height="514.40" fill="none" stroke="#4a84ae" stroke-width="1.4"/>
<text class="t" font-size="24.5" text-anchor="middle" transform="translate(856.63 1891.90) scale(1 1.1)">85.75</text>
<rect x="901.85" y="2255.44" width="60.30" height="157.36" fill="#699dcc" stroke="#6b7d90" stroke-width="2.6"/>
<text class="t" font-size="24.5" text-anchor="middle" transform="translate(932.00 2250.84) scale(1 1.1)">40.04</text>
<text class="t" font-size="34" transform="translate(579.40 1825.80) scale(1 1.075)">LSF</text>
<line x1="630.51" y1="2412.80" x2="630.51" y2="2426.80" stroke="#111" stroke-width="4.3"/>
<text class="t" font-size="26.5" text-anchor="middle" transform="translate(630.51 2457.20) scale(1 1.1)">1</text>
<line x1="705.88" y1="2412.80" x2="705.88" y2="2426.80" stroke="#111" stroke-width="4.3"/>
<text class="t" font-size="26.5" text-anchor="middle" transform="translate(705.88 2457.20) scale(1 1.1)">2</text>
<line x1="781.25" y1="2412.80" x2="781.25" y2="2426.80" stroke="#111" stroke-width="4.3"/>
<text class="t" font-size="26.5" text-anchor="middle" transform="translate(781.25 2457.20) scale(1 1.1)">3</text>
<line x1="856.63" y1="2412.80" x2="856.63" y2="2426.80" stroke="#111" stroke-width="4.3"/>
<text class="t" font-size="26.5" text-anchor="middle" transform="translate(856.63 2457.20) scale(1 1.1)">4</text>
<line x1="932.00" y1="2412.80" x2="932.00" y2="2426.80" stroke="#111" stroke-width="4.3"/>
<text class="t" font-size="26.5" text-anchor="middle" transform="translate(932.00 2457.20) scale(1 1.1)">5</text>
<rect x="1037.53" y="2027.48" width="60.30" height="385.32" fill="#699dcc" stroke="#6b7d90" stroke-width="2.6"/>
<text class="t" font-size="24.5" text-anchor="middle" transform="translate(1067.68 2022.88) scale(1 1.1)">69.07</text>
<rect x="1112.10" y="2023.16" width="61.90" height="389.64" fill="url(#hxc)" stroke="#8e979f" stroke-width="2.6"/>
<rect x="1114.00" y="2025.06" width="58.10" height="387.74" fill="none" stroke="#4a84ae" stroke-width="1.4"/>
<text class="t" font-size="24.5" text-anchor="middle" transform="translate(1143.05 2018.56) scale(1 1.1)">69.62</text>
<rect x="1188.28" y="2047.34" width="60.30" height="365.46" fill="#699dcc" stroke="#6b7d90" stroke-width="2.6"/>
<text class="t" font-size="24.5" text-anchor="middle" transform="translate(1218.43 2042.74) scale(1 1.1)">66.54</text>
<rect x="1263.65" y="2048.99" width="60.30" height="363.81" fill="#699dcc" stroke="#6b7d90" stroke-width="2.6"/>
<text class="t" font-size="24.5" text-anchor="middle" transform="translate(1293.80 2044.39) scale(1 1.1)">66.33</text>
<rect x="1339.02" y="2134.66" width="60.30" height="278.14" fill="#699dcc" stroke="#6b7d90" stroke-width="2.6"/>
<text class="t" font-size="24.5" text-anchor="middle" transform="translate(1369.17 2130.06) scale(1 1.1)">55.42</text>
<text class="t" font-size="34" transform="translate(1020.60 1825.80) scale(1 1.075)">MP</text>
<line x1="1067.68" y1="2412.80" x2="1067.68" y2="2426.80" stroke="#111" stroke-width="4.3"/>
<text class="t" font-size="26.5" text-anchor="middle" transform="translate(1067.68 2457.20) scale(1 1.1)">1</text>
<line x1="1143.05" y1="2412.80" x2="1143.05" y2="2426.80" stroke="#111" stroke-width="4.3"/>
<text class="t" font-size="26.5" text-anchor="middle" transform="translate(1143.05 2457.20) scale(1 1.1)">2</text>
<line x1="1218.43" y1="2412.80" x2="1218.43" y2="2426.80" stroke="#111" stroke-width="4.3"/>
<text class="t" font-size="26.5" text-anchor="middle" transform="translate(1218.43 2457.20) scale(1 1.1)">3</text>
<line x1="1293.80" y1="2412.80" x2="1293.80" y2="2426.80" stroke="#111" stroke-width="4.3"/>
<text class="t" font-size="26.5" text-anchor="middle" transform="translate(1293.80 2457.20) scale(1 1.1)">4</text>
<line x1="1369.17" y1="2412.80" x2="1369.17" y2="2426.80" stroke="#111" stroke-width="4.3"/>
<text class="t" font-size="26.5" text-anchor="middle" transform="translate(1369.17 2457.20) scale(1 1.1)">5</text>
<rect x="1474.70" y="2076.32" width="60.30" height="336.48" fill="#699dcc" stroke="#6b7d90" stroke-width="2.6"/>
<text class="t" font-size="24.5" text-anchor="middle" transform="translate(1504.85 2071.72) scale(1 1.1)">62.85</text>
<rect x="1550.07" y="2159.95" width="60.30" height="252.85" fill="#699dcc" stroke="#6b7d90" stroke-width="2.6"/>
<text class="t" font-size="24.5" text-anchor="middle" transform="translate(1580.22 2155.35) scale(1 1.1)">52.2</text>
<rect x="1624.65" y="2003.61" width="61.90" height="409.19" fill="url(#hxc)" stroke="#8e979f" stroke-width="2.6"/>
<rect x="1626.55" y="2005.51" width="58.10" height="407.29" fill="none" stroke="#4a84ae" stroke-width="1.4"/>
<text class="t" font-size="24.5" text-anchor="middle" transform="translate(1655.60 1999.01) scale(1 1.1)">72.11</text>
<rect x="1700.82" y="2028.58" width="60.30" height="384.22" fill="#699dcc" stroke="#6b7d90" stroke-width="2.6"/>
<text class="t" font-size="24.5" text-anchor="middle" transform="translate(1730.97 2023.98) scale(1 1.1)">68.93</text>
<rect x="1776.19" y="2013.11" width="60.30" height="399.69" fill="#699dcc" stroke="#6b7d90" stroke-width="2.6"/>
<text class="t" font-size="24.5" text-anchor="middle" transform="translate(1806.34 2008.51) scale(1 1.1)">70.9</text>
<text class="t" font-size="34" transform="translate(1456.50 1825.80) scale(1 1.075)">LW</text>
<line x1="1504.85" y1="2412.80" x2="1504.85" y2="2426.80" stroke="#111" stroke-width="4.3"/>
<text class="t" font-size="26.5" text-anchor="middle" transform="translate(1504.85 2457.20) scale(1 1.1)">1</text>
<line x1="1580.22" y1="2412.80" x2="1580.22" y2="2426.80" stroke="#111" stroke-width="4.3"/>
<text class="t" font-size="26.5" text-anchor="middle" transform="translate(1580.22 2457.20) scale(1 1.1)">2</text>
<line x1="1655.60" y1="2412.80" x2="1655.60" y2="2426.80" stroke="#111" stroke-width="4.3"/>
<text class="t" font-size="26.5" text-anchor="middle" transform="translate(1655.60 2457.20) scale(1 1.1)">3</text>
<line x1="1730.97" y1="2412.80" x2="1730.97" y2="2426.80" stroke="#111" stroke-width="4.3"/>
<text class="t" font-size="26.5" text-anchor="middle" transform="translate(1730.97 2457.20) scale(1 1.1)">4</text>
<line x1="1806.34" y1="2412.80" x2="1806.34" y2="2426.80" stroke="#111" stroke-width="4.3"/>
<text class="t" font-size="26.5" text-anchor="middle" transform="translate(1806.34 2457.20) scale(1 1.1)">5</text>
<rect x="1911.07" y="1970.86" width="61.90" height="441.94" fill="url(#hxc)" stroke="#8e979f" stroke-width="2.6"/>
<rect x="1912.97" y="1972.76" width="58.10" height="440.04" fill="none" stroke="#4a84ae" stroke-width="1.4"/>
<text class="t" font-size="24.5" text-anchor="middle" transform="translate(1942.02 1966.26) scale(1 1.1)">76.28</text>
<rect x="1987.24" y="2134.98" width="60.30" height="277.82" fill="#699dcc" stroke="#6b7d90" stroke-width="2.6"/>
<text class="t" font-size="24.5" text-anchor="middle" transform="translate(2017.39 2130.38) scale(1 1.1)">55.38</text>
<rect x="2062.62" y="2060.69" width="60.30" height="352.11" fill="#699dcc" stroke="#6b7d90" stroke-width="2.6"/>
<text class="t" font-size="24.5" text-anchor="middle" transform="translate(2092.76 2056.09) scale(1 1.1)">64.84</text>
<rect x="2137.99" y="2050.88" width="60.30" height="361.92" fill="#699dcc" stroke="#6b7d90" stroke-width="2.6"/>
<text class="t" font-size="24.5" text-anchor="middle" transform="translate(2168.14 2046.28) scale(1 1.1)">66.09</text>
<rect x="2213.36" y="2064.31" width="60.30" height="348.49" fill="#699dcc" stroke="#6b7d90" stroke-width="2.6"/>
<text class="t" font-size="24.5" text-anchor="middle" transform="translate(2243.51 2059.71) scale(1 1.1)">64.38</text>
<text class="t" font-size="34" transform="translate(1892.20 1825.80) scale(1 1.075)">SW</text>
<line x1="1942.02" y1="2412.80" x2="1942.02" y2="2426.80" stroke="#111" stroke-width="4.3"/>
<text class="t" font-size="26.5" text-anchor="middle" transform="translate(1942.02 2457.20) scale(1 1.1)">1</text>
<line x1="2017.39" y1="2412.80" x2="2017.39" y2="2426.80" stroke="#111" stroke-width="4.3"/>
<text class="t" font-size="26.5" text-anchor="middle" transform="translate(2017.39 2457.20) scale(1 1.1)">2</text>
<line x1="2092.76" y1="2412.80" x2="2092.76" y2="2426.80" stroke="#111" stroke-width="4.3"/>
<text class="t" font-size="26.5" text-anchor="middle" transform="translate(2092.76 2457.20) scale(1 1.1)">3</text>
<line x1="2168.14" y1="2412.80" x2="2168.14" y2="2426.80" stroke="#111" stroke-width="4.3"/>
<text class="t" font-size="26.5" text-anchor="middle" transform="translate(2168.14 2457.20) scale(1 1.1)">4</text>
<line x1="2243.51" y1="2412.80" x2="2243.51" y2="2426.80" stroke="#111" stroke-width="4.3"/>
<text class="t" font-size="26.5" text-anchor="middle" transform="translate(2243.51 2457.20) scale(1 1.1)">5</text>
<line x1="113" y1="2412.80" x2="125.10" y2="2412.80" stroke="#111" stroke-width="4.4"/>
<text class="t" font-size="27" text-anchor="end" transform="translate(105 2421.30) scale(1 1.08)">20</text>
<line x1="118.5" y1="2373.54" x2="125.10" y2="2373.54" stroke="#111" stroke-width="4.4"/>
<line x1="113" y1="2334.28" x2="125.10" y2="2334.28" stroke="#111" stroke-width="4.4"/>
<text class="t" font-size="27" text-anchor="end" transform="translate(105 2342.78) scale(1 1.08)">30</text>
<line x1="118.5" y1="2295.01" x2="125.10" y2="2295.01" stroke="#111" stroke-width="4.4"/>
<line x1="113" y1="2255.75" x2="125.10" y2="2255.75" stroke="#111" stroke-width="4.4"/>
<text class="t" font-size="27" text-anchor="end" transform="translate(105 2264.25) scale(1 1.08)">40</text>
<line x1="118.5" y1="2216.49" x2="125.10" y2="2216.49" stroke="#111" stroke-width="4.4"/>
<line x1="113" y1="2177.22" x2="125.10" y2="2177.22" stroke="#111" stroke-width="4.4"/>
<text class="t" font-size="27" text-anchor="end" transform="translate(105 2185.72) scale(1 1.08)">50</text>
<line x1="118.5" y1="2137.96" x2="125.10" y2="2137.96" stroke="#111" stroke-width="4.4"/>
<line x1="113" y1="2098.70" x2="125.10" y2="2098.70" stroke="#111" stroke-width="4.4"/>
<text class="t" font-size="27" text-anchor="end" transform="translate(105 2107.20) scale(1 1.08)">60</text>
<line x1="118.5" y1="2059.44" x2="125.10" y2="2059.44" stroke="#111" stroke-width="4.4"/>
<line x1="113" y1="2020.17" x2="125.10" y2="2020.17" stroke="#111" stroke-width="4.4"/>
<text class="t" font-size="27" text-anchor="end" transform="translate(105 2028.67) scale(1 1.08)">70</text>
<line x1="118.5" y1="1980.91" x2="125.10" y2="1980.91" stroke="#111" stroke-width="4.4"/>
<line x1="113" y1="1941.65" x2="125.10" y2="1941.65" stroke="#111" stroke-width="4.4"/>
<text class="t" font-size="27" text-anchor="end" transform="translate(105 1950.15) scale(1 1.08)">80</text>
<line x1="118.5" y1="1902.39" x2="125.10" y2="1902.39" stroke="#111" stroke-width="4.4"/>
<line x1="113" y1="1863.12" x2="125.10" y2="1863.12" stroke="#111" stroke-width="4.4"/>
<text class="t" font-size="27" text-anchor="end" transform="translate(105 1871.62) scale(1 1.08)">90</text>
<line x1="118.5" y1="1823.86" x2="125.10" y2="1823.86" stroke="#111" stroke-width="4.4"/>
<line x1="113" y1="1784.60" x2="125.10" y2="1784.60" stroke="#111" stroke-width="4.4"/>
<text class="t" font-size="27" text-anchor="end" transform="translate(105 1793.10) scale(1 1.08)">100</text>
<line x1="113" y1="1784.60" x2="2313.35" y2="1784.60" stroke="#0a0a0a" stroke-width="4.8"/>
<line x1="113" y1="2412.80" x2="2313.35" y2="2412.80" stroke="#0a0a0a" stroke-width="4.8"/>
<line x1="125.10" y1="1784.60" x2="125.10" y2="2412.80" stroke="#2a2a2a" stroke-width="4.8"/>
<line x1="562.27" y1="1784.60" x2="562.27" y2="2412.80" stroke="#0a0a0a" stroke-width="4.8"/>
<line x1="999.44" y1="1784.60" x2="999.44" y2="2412.80" stroke="#0a0a0a" stroke-width="4.8"/>
<line x1="1436.61" y1="1784.60" x2="1436.61" y2="2412.80" stroke="#0a0a0a" stroke-width="4.8"/>
<line x1="1873.78" y1="1784.60" x2="1873.78" y2="2412.80" stroke="#0a0a0a" stroke-width="4.8"/>
<line x1="2310.95" y1="1784.60" x2="2310.95" y2="2412.80" stroke="#0a0a0a" stroke-width="4.8"/>
<text class="t" font-size="33.5" text-anchor="middle" transform="translate(45.3 2098.70) rotate(-90) scale(1 1.05)">Score</text>
</g>
<g class="cap" font-size="87"><text transform="translate(1117.1 2583.2) scale(0.9 1)">(</text><text x="1144.9" y="2582.7" font-weight="bold" font-size="87">c</text><text transform="translate(1181.8 2583.2) scale(0.9 1)">)</text></g>
<g id="row-d" filter="url(#soft)">
<rect x="163.19" y="3061.67" width="60.30" height="219.63" fill="#699dcc" stroke="#6b7d90" stroke-width="2.6"/>
<text class="t" font-size="24.5" text-anchor="middle" transform="translate(193.34 3057.07) scale(1 1.1)">47.97</text>
<rect x="237.76" y="2907.84" width="61.90" height="373.46" fill="url(#hxd)" stroke="#8e979f" stroke-width="2.6"/>
<rect x="239.66" y="2909.74" width="58.10" height="371.56" fill="none" stroke="#4a84ae" stroke-width="1.4"/>
<text class="t" font-size="24.5" text-anchor="middle" transform="translate(268.71 2903.24) scale(1 1.1)">67.56</text>
<rect x="313.94" y="2910.50" width="60.30" height="370.80" fill="#699dcc" stroke="#6b7d90" stroke-width="2.6"/>
<text class="t" font-size="24.5" text-anchor="middle" transform="translate(344.08 2905.90) scale(1 1.1)">67.22</text>
<rect x="389.31" y="2966.73" width="60.30" height="314.57" fill="#699dcc" stroke="#6b7d90" stroke-width="2.6"/>
<text class="t" font-size="24.5" text-anchor="middle" transform="translate(419.46 2962.13) scale(1 1.1)">60.06</text>
<rect x="464.68" y="3061.59" width="60.30" height="219.71" fill="#699dcc" stroke="#6b7d90" stroke-width="2.6"/>
<text class="t" font-size="24.5" text-anchor="middle" transform="translate(494.83 3056.99) scale(1 1.1)">47.98</text>
<text class="t" font-size="34" transform="translate(138.20 2697.70) scale(1 1.075)">PBL</text>
<line x1="193.34" y1="3281.30" x2="193.34" y2="3295.30" stroke="#111" stroke-width="4.3"/>
<text class="t" font-size="26.5" text-anchor="middle" transform="translate(193.34 3325.70) scale(1 1.1)">1</text>
<line x1="268.71" y1="3281.30" x2="268.71" y2="3295.30" stroke="#111" stroke-width="4.3"/>
<text class="t" font-size="26.5" text-anchor="middle" transform="translate(268.71 3325.70) scale(1 1.1)">2</text>
<line x1="344.08" y1="3281.30" x2="344.08" y2="3295.30" stroke="#111" stroke-width="4.3"/>
<text class="t" font-size="26.5" text-anchor="middle" transform="translate(344.08 3325.70) scale(1 1.1)">3</text>
<line x1="419.46" y1="3281.30" x2="419.46" y2="3295.30" stroke="#111" stroke-width="4.3"/>
<text class="t" font-size="26.5" text-anchor="middle" transform="translate(419.46 3325.70) scale(1 1.1)">4</text>
<line x1="494.83" y1="3281.30" x2="494.83" y2="3295.30" stroke="#111" stroke-width="4.3"/>
<text class="t" font-size="26.5" text-anchor="middle" transform="translate(494.83 3325.70) scale(1 1.1)">5</text>
<rect x="600.36" y="3016.51" width="60.30" height="264.79" fill="#699dcc" stroke="#6b7d90" stroke-width="2.6"/>
<text class="t" font-size="24.5" text-anchor="middle" transform="translate(630.51 3011.91) scale(1 1.1)">53.72</text>
<rect x="675.73" y="2929.98" width="60.30" height="351.32" fill="#699dcc" stroke="#6b7d90" stroke-width="2.6"/>
<text class="t" font-size="24.5" text-anchor="middle" transform="translate(705.88 2925.38) scale(1 1.1)">64.74</text>
<rect x="751.11" y="2933.36" width="60.30" height="347.94" fill="#699dcc" stroke="#6b7d90" stroke-width="2.6"/>
<text class="t" font-size="24.5" text-anchor="middle" transform="translate(781.25 2928.76) scale(1 1.1)">64.31</text>
<rect x="825.68" y="2800.41" width="61.90" height="480.89" fill="url(#hxd)" stroke="#8e979f" stroke-width="2.6"/>
<rect x="827.58" y="2802.31" width="58.10" height="478.99" fill="none" stroke="#4a84ae" stroke-width="1.4"/>
<text class="t" font-size="24.5" text-anchor="middle" transform="translate(856.63 2795.81) scale(1 1.1)">81.24</text>
<rect x="901.85" y="3228.06" width="60.30" height="53.24" fill="#699dcc" stroke="#6b7d90" stroke-width="2.6"/>
<text class="t" font-size="24.5" text-anchor="middle" transform="translate(932.00 3223.46) scale(1 1.1)">26.78</text>
<text class="t" font-size="34" transform="translate(576.40 2697.70) scale(1 1.075)">LSF</text>
<line x1="630.51" y1="3281.30" x2="630.51" y2="3295.30" stroke="#111" stroke-width="4.3"/>
<text class="t" font-size="26.5" text-anchor="middle" transform="translate(630.51 3325.70) scale(1 1.1)">1</text>
<line x1="705.88" y1="3281.30" x2="705.88" y2="3295.30" stroke="#111" stroke-width="4.3"/>
<text class="t" font-size="26.5" text-anchor="middle" transform="translate(705.88 3325.70) scale(1 1.1)">2</text>
<line x1="781.25" y1="3281.30" x2="781.25" y2="3295.30" stroke="#111" stroke-width="4.3"/>
<text class="t" font-size="26.5" text-anchor="middle" transform="translate(781.25 3325.70) scale(1 1.1)">3</text>
<line x1="856.63" y1="3281.30" x2="856.63" y2="3295.30" stroke="#111" stroke-width="4.3"/>
<text class="t" font-size="26.5" text-anchor="middle" transform="translate(856.63 3325.70) scale(1 1.1)">4</text>
<line x1="932.00" y1="3281.30" x2="932.00" y2="3295.30" stroke="#111" stroke-width="4.3"/>
<text class="t" font-size="26.5" text-anchor="middle" transform="translate(932.00 3325.70) scale(1 1.1)">5</text>
<rect x="1037.53" y="2931.00" width="60.30" height="350.30" fill="#699dcc" stroke="#6b7d90" stroke-width="2.6"/>
<text class="t" font-size="24.5" text-anchor="middle" transform="translate(1067.68 2926.40) scale(1 1.1)">64.61</text>
<rect x="1112.10" y="2921.11" width="61.90" height="360.19" fill="url(#hxd)" stroke="#8e979f" stroke-width="2.6"/>
<rect x="1114.00" y="2923.01" width="58.10" height="358.29" fill="none" stroke="#4a84ae" stroke-width="1.4"/>
<text class="t" font-size="24.5" text-anchor="middle" transform="translate(1143.05 2916.51) scale(1 1.1)">65.87</text>
<rect x="1188.28" y="3006.86" width="60.30" height="274.44" fill="#699dcc" stroke="#6b7d90" stroke-width="2.6"/>
<text class="t" font-size="24.5" text-anchor="middle" transform="translate(1218.43 3002.26) scale(1 1.1)">54.95</text>
<rect x="1263.65" y="2991.86" width="60.30" height="289.44" fill="#699dcc" stroke="#6b7d90" stroke-width="2.6"/>
<text class="t" font-size="24.5" text-anchor="middle" transform="translate(1293.80 2987.26) scale(1 1.1)">56.86</text>
<rect x="1339.02" y="3057.58" width="60.30" height="223.72" fill="#699dcc" stroke="#6b7d90" stroke-width="2.6"/>
<text class="t" font-size="24.5" text-anchor="middle" transform="translate(1369.17 3052.98) scale(1 1.1)">48.49</text>
<text class="t" font-size="34" transform="translate(1020.30 2697.70) scale(1 1.075)">MP</text>
<line x1="1067.68" y1="3281.30" x2="1067.68" y2="3295.30" stroke="#111" stroke-width="4.3"/>
<text class="t" font-size="26.5" text-anchor="middle" transform="translate(1067.68 3325.70) scale(1 1.1)">1</text>
<line x1="1143.05" y1="3281.30" x2="1143.05" y2="3295.30" stroke="#111" stroke-width="4.3"/>
<text class="t" font-size="26.5" text-anchor="middle" transform="translate(1143.05 3325.70) scale(1 1.1)">2</text>
<line x1="1218.43" y1="3281.30" x2="1218.43" y2="3295.30" stroke="#111" stroke-width="4.3"/>
<text class="t" font-size="26.5" text-anchor="middle" transform="translate(1218.43 3325.70) scale(1 1.1)">3</text>
<line x1="1293.80" y1="3281.30" x2="1293.80" y2="3295.30" stroke="#111" stroke-width="4.3"/>
<text class="t" font-size="26.5" text-anchor="middle" transform="translate(1293.80 3325.70) scale(1 1.1)">4</text>
<line x1="1369.17" y1="3281.30" x2="1369.17" y2="3295.30" stroke="#111" stroke-width="4.3"/>
<text class="t" font-size="26.5" text-anchor="middle" transform="translate(1369.17 3325.70) scale(1 1.1)">5</text>
<rect x="1474.70" y="3051.06" width="60.30" height="230.24" fill="#699dcc" stroke="#6b7d90" stroke-width="2.6"/>
<text class="t" font-size="24.5" text-anchor="middle" transform="translate(1504.85 3046.46) scale(1 1.1)">49.32</text>
<rect x="1549.27" y="2932.02" width="61.90" height="349.28" fill="url(#hxd)" stroke="#8e979f" stroke-width="2.6"/>
<rect x="1551.17" y="2933.92" width="58.10" height="347.38" fill="none" stroke="#4a84ae" stroke-width="1.4"/>
<text class="t" font-size="24.5" text-anchor="middle" transform="translate(1580.22 2927.42) scale(1 1.1)">64.48</text>
<rect x="1625.45" y="2984.32" width="60.30" height="296.98" fill="#699dcc" stroke="#6b7d90" stroke-width="2.6"/>
<text class="t" font-size="24.5" text-anchor="middle" transform="translate(1655.60 2979.72) scale(1 1.1)">57.82</text>
<rect x="1700.82" y="2995.47" width="60.30" height="285.83" fill="#699dcc" stroke="#6b7d90" stroke-width="2.6"/>
<text class="t" font-size="24.5" text-anchor="middle" transform="translate(1730.97 2990.87) scale(1 1.1)">56.4</text>
<rect x="1776.19" y="2945.45" width="60.30" height="335.85" fill="#699dcc" stroke="#6b7d90" stroke-width="2.6"/>
<text class="t" font-size="24.5" text-anchor="middle" transform="translate(1806.34 2940.85) scale(1 1.1)">62.77</text>
<text class="t" font-size="34" transform="translate(1455.70 2697.70) scale(1 1.075)">LW</text>
<line x1="1504.85" y1="3281.30" x2="1504.85" y2="3295.30" stroke="#111" stroke-width="4.3"/>
<text class="t" font-size="26.5" text-anchor="middle" transform="translate(1504.85 3325.70) scale(1 1.1)">1</text>
<line x1="1580.22" y1="3281.30" x2="1580.22" y2="3295.30" stroke="#111" stroke-width="4.3"/>
<text class="t" font-size="26.5" text-anchor="middle" transform="translate(1580.22 3325.70) scale(1 1.1)">2</text>
<line x1="1655.60" y1="3281.30" x2="1655.60" y2="3295.30" stroke="#111" stroke-width="4.3"/>
<text class="t" font-size="26.5" text-anchor="middle" transform="translate(1655.60 3325.70) scale(1 1.1)">3</text>
<line x1="1730.97" y1="3281.30" x2="1730.97" y2="3295.30" stroke="#111" stroke-width="4.3"/>
<text class="t" font-size="26.5" text-anchor="middle" transform="translate(1730.97 3325.70) scale(1 1.1)">4</text>
<line x1="1806.34" y1="3281.30" x2="1806.34" y2="3295.30" stroke="#111" stroke-width="4.3"/>
<text class="t" font-size="26.5" text-anchor="middle" transform="translate(1806.34 3325.70) scale(1 1.1)">5</text>
<rect x="1911.07" y="2933.28" width="61.90" height="348.02" fill="url(#hxd)" stroke="#8e979f" stroke-width="2.6"/>
<rect x="1912.97" y="2935.18" width="58.10" height="346.12" fill="none" stroke="#4a84ae" stroke-width="1.4"/>
<text class="t" font-size="24.5" text-anchor="middle" transform="translate(1942.02 2928.68) scale(1 1.1)">64.32</text>
<rect x="1987.24" y="2969.87" width="60.30" height="311.43" fill="#699dcc" stroke="#6b7d90" stroke-width="2.6"/>
<text class="t" font-size="24.5" text-anchor="middle" transform="translate(2017.39 2965.27) scale(1 1.1)">59.66</text>
<rect x="2062.62" y="2987.38" width="60.30" height="293.92" fill="#699dcc" stroke="#6b7d90" stroke-width="2.6"/>
<text class="t" font-size="24.5" text-anchor="middle" transform="translate(2092.76 2982.78) scale(1 1.1)">57.43</text>
<rect x="2137.99" y="2984.87" width="60.30" height="296.43" fill="#699dcc" stroke="#6b7d90" stroke-width="2.6"/>
<text class="t" font-size="24.5" text-anchor="middle" transform="translate(2168.14 2980.27) scale(1 1.1)">57.75</text>
<rect x="2213.36" y="3032.93" width="60.30" height="248.37" fill="#699dcc" stroke="#6b7d90" stroke-width="2.6"/>
<text class="t" font-size="24.5" text-anchor="middle" transform="translate(2243.51 3028.33) scale(1 1.1)">51.63</text>
<text class="t" font-size="34" transform="translate(1891.40 2697.70) scale(1 1.075)">SW</text>
<line x1="1942.02" y1="3281.30" x2="1942.02" y2="3295.30" stroke="#111" stroke-width="4.3"/>
<text class="t" font-size="26.5" text-anchor="middle" transform="translate(1942.02 3325.70) scale(1 1.1)">1</text>
<line x1="2017.39" y1="3281.30" x2="2017.39" y2="3295.30" stroke="#111" stroke-width="4.3"/>
<text class="t" font-size="26.5" text-anchor="middle" transform="translate(2017.39 3325.70) scale(1 1.1)">2</text>
<line x1="2092.76" y1="3281.30" x2="2092.76" y2="3295.30" stroke="#111" stroke-width="4.3"/>
<text class="t" font-size="26.5" text-anchor="middle" transform="translate(2092.76 3325.70) scale(1 1.1)">3</text>
<line x1="2168.14" y1="3281.30" x2="2168.14" y2="3295.30" stroke="#111" stroke-width="4.3"/>
<text class="t" font-size="26.5" text-anchor="middle" transform="translate(2168.14 3325.70) scale(1 1.1)">4</text>
<line x1="2243.51" y1="3281.30" x2="2243.51" y2="3295.30" stroke="#111" stroke-width="4.3"/>
<text class="t" font-size="26.5" text-anchor="middle" transform="translate(2243.51 3325.70) scale(1 1.1)">5</text>
<line x1="113" y1="3281.30" x2="125.10" y2="3281.30" stroke="#111" stroke-width="4.4"/>
<text class="t" font-size="27" text-anchor="end" transform="translate(105 3289.80) scale(1 1.08)">20</text>
<line x1="118.5" y1="3242.04" x2="125.10" y2="3242.04" stroke="#111" stroke-width="4.4"/>
<line x1="113" y1="3202.78" x2="125.10" y2="3202.78" stroke="#111" stroke-width="4.4"/>
<text class="t" font-size="27" text-anchor="end" transform="translate(105 3211.28) scale(1 1.08)">30</text>
<line x1="118.5" y1="3163.51" x2="125.10" y2="3163.51" stroke="#111" stroke-width="4.4"/>
<line x1="113" y1="3124.25" x2="125.10" y2="3124.25" stroke="#111" stroke-width="4.4"/>
<text class="t" font-size="27" text-anchor="end" transform="translate(105 3132.75) scale(1 1.08)">40</text>
<line x1="118.5" y1="3084.99" x2="125.10" y2="3084.99" stroke="#111" stroke-width="4.4"/>
<line x1="113" y1="3045.72" x2="125.10" y2="3045.72" stroke="#111" stroke-width="4.4"/>
<text class="t" font-size="27" text-anchor="end" transform="translate(105 3054.22) scale(1 1.08)">50</text>
<line x1="118.5" y1="3006.46" x2="125.10" y2="3006.46" stroke="#111" stroke-width="4.4"/>
<line x1="113" y1="2967.20" x2="125.10" y2="2967.20" stroke="#111" stroke-width="4.4"/>
<text class="t" font-size="27" text-anchor="end" transform="translate(105 2975.70) scale(1 1.08)">60</text>
<line x1="118.5" y1="2927.94" x2="125.10" y2="2927.94" stroke="#111" stroke-width="4.4"/>
<line x1="113" y1="2888.68" x2="125.10" y2="2888.68" stroke="#111" stroke-width="4.4"/>
<text class="t" font-size="27" text-anchor="end" transform="translate(105 2897.18) scale(1 1.08)">70</text>
<line x1="118.5" y1="2849.41" x2="125.10" y2="2849.41" stroke="#111" stroke-width="4.4"/>
<line x1="113" y1="2810.15" x2="125.10" y2="2810.15" stroke="#111" stroke-width="4.4"/>
<text class="t" font-size="27" text-anchor="end" transform="translate(105 2818.65) scale(1 1.08)">80</text>
<line x1="118.5" y1="2770.89" x2="125.10" y2="2770.89" stroke="#111" stroke-width="4.4"/>
<line x1="113" y1="2731.62" x2="125.10" y2="2731.62" stroke="#111" stroke-width="4.4"/>
<text class="t" font-size="27" text-anchor="end" transform="translate(105 2740.12) scale(1 1.08)">90</text>
<line x1="118.5" y1="2692.36" x2="125.10" y2="2692.36" stroke="#111" stroke-width="4.4"/>
<line x1="113" y1="2653.10" x2="125.10" y2="2653.10" stroke="#111" stroke-width="4.4"/>
<text class="t" font-size="27" text-anchor="end" transform="translate(105 2661.60) scale(1 1.08)">100</text>
<line x1="113" y1="2653.10" x2="2313.35" y2="2653.10" stroke="#0a0a0a" stroke-width="4.8"/>
<line x1="113" y1="3281.30" x2="2313.35" y2="3281.30" stroke="#0a0a0a" stroke-width="4.8"/>
<line x1="125.10" y1="2653.10" x2="125.10" y2="3281.30" stroke="#2a2a2a" stroke-width="4.8"/>
<line x1="562.27" y1="2653.10" x2="562.27" y2="3281.30" stroke="#0a0a0a" stroke-width="4.8"/>
<line x1="999.44" y1="2653.10" x2="999.44" y2="3281.30" stroke="#0a0a0a" stroke-width="4.8"/>
<line x1="1436.61" y1="2653.10" x2="1436.61" y2="3281.30" stroke="#0a0a0a" stroke-width="4.8"/>
<line x1="1873.78" y1="2653.10" x2="1873.78" y2="3281.30" stroke="#0a0a0a" stroke-width="4.8"/>
<line x1="2310.95" y1="2653.10" x2="2310.95" y2="3281.30" stroke="#0a0a0a" stroke-width="4.8"/>
<text class="t" font-size="33.5" text-anchor="middle" transform="translate(45.3 2967.20) rotate(-90) scale(1 1.05)">Score</text>
</g>
<g class="cap" font-size="87"><text transform="translate(1110.2 3458.0) scale(0.9 1)">(</text><text x="1136.9" y="3456.3" font-weight="bold" font-size="87">d</text><text transform="translate(1188.8 3458.0) scale(0.9 1)">)</text></g>
</svg>
</body></html>
